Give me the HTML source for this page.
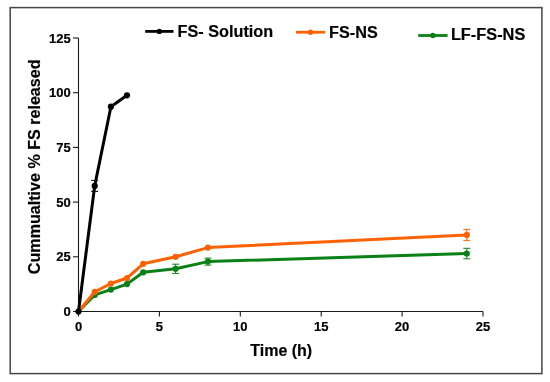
<!DOCTYPE html>
<html><head><meta charset="utf-8"><title>FS release</title>
<style>
html,body{margin:0;padding:0;background:#fff;}
svg{display:block}
text{font-family:"Liberation Sans",Arial,sans-serif;font-weight:bold;fill:#000;stroke:#000;stroke-width:0.18px;}
.tk{font-size:13px}
.lg{font-size:16px}
</style></head><body>
<svg width="550" height="382" viewBox="0 0 550 382">
<rect width="550" height="382" fill="#fff"/>
<rect x="10.2" y="7.6" width="531.7" height="366" fill="#fff" stroke="#464646" stroke-width="1.5"/>
<path d="M78.5 38V311.5H483" fill="none" stroke="#1a1a1a" stroke-width="1.1"/>
<path d="M73 311.5H78.5" stroke="#1a1a1a" stroke-width="1.1"/>
<text x="70.7" y="316.0" text-anchor="end" class="tk">0</text>
<path d="M73 256.8H78.5" stroke="#1a1a1a" stroke-width="1.1"/>
<text x="70.7" y="261.3" text-anchor="end" class="tk">25</text>
<path d="M73 202.1H78.5" stroke="#1a1a1a" stroke-width="1.1"/>
<text x="70.7" y="206.6" text-anchor="end" class="tk">50</text>
<path d="M73 147.4H78.5" stroke="#1a1a1a" stroke-width="1.1"/>
<text x="70.7" y="151.9" text-anchor="end" class="tk">75</text>
<path d="M73 92.7H78.5" stroke="#1a1a1a" stroke-width="1.1"/>
<text x="70.7" y="97.2" text-anchor="end" class="tk">100</text>
<path d="M73 38.0H78.5" stroke="#1a1a1a" stroke-width="1.1"/>
<text x="70.7" y="42.5" text-anchor="end" class="tk">125</text>
<path d="M78.5 311.5V316.5" stroke="#1a1a1a" stroke-width="1.1"/>
<text x="78.5" y="331.3" text-anchor="middle" class="tk">0</text>
<path d="M159.4 311.5V316.5" stroke="#1a1a1a" stroke-width="1.1"/>
<text x="159.4" y="331.3" text-anchor="middle" class="tk">5</text>
<path d="M240.3 311.5V316.5" stroke="#1a1a1a" stroke-width="1.1"/>
<text x="240.3" y="331.3" text-anchor="middle" class="tk">10</text>
<path d="M321.2 311.5V316.5" stroke="#1a1a1a" stroke-width="1.1"/>
<text x="321.2" y="331.3" text-anchor="middle" class="tk">15</text>
<path d="M402.1 311.5V316.5" stroke="#1a1a1a" stroke-width="1.1"/>
<text x="402.1" y="331.3" text-anchor="middle" class="tk">20</text>
<path d="M483.0 311.5V316.5" stroke="#1a1a1a" stroke-width="1.1"/>
<text x="483.0" y="331.3" text-anchor="middle" class="tk">25</text>
<path d="M175.6 264.2V273.4M172.1 264.2h7M172.1 273.4h7" stroke="#0a8016" stroke-width="1" fill="none"/>
<path d="M207.9 258.1V265.1M204.4 258.1h7M204.4 265.1h7" stroke="#0a8016" stroke-width="1" fill="none"/>
<path d="M466.8 248.3V258.8M463.3 248.3h7M463.3 258.8h7" stroke="#0a8016" stroke-width="1" fill="none"/>
<polyline points="78.5,311.5 94.7,294.9 110.9,289.6 127.0,284.1 143.2,272.3 175.6,268.8 207.9,261.6 466.8,253.5" fill="none" stroke="#0a8016" stroke-width="3" stroke-linejoin="round" stroke-linecap="round"/>
<circle cx="94.7" cy="294.9" r="3.1" fill="#0a8016"/>
<circle cx="110.9" cy="289.6" r="3.1" fill="#0a8016"/>
<circle cx="127.0" cy="284.1" r="3.1" fill="#0a8016"/>
<circle cx="143.2" cy="272.3" r="3.1" fill="#0a8016"/>
<circle cx="175.6" cy="268.8" r="3.1" fill="#0a8016"/>
<circle cx="207.9" cy="261.6" r="3.1" fill="#0a8016"/>
<circle cx="466.8" cy="253.5" r="3.1" fill="#0a8016"/>
<path d="M466.8 229.4V240.4M463.3 229.4h7M463.3 240.4h7" stroke="#ff6204" stroke-width="1" fill="none"/>
<polyline points="78.5,311.5 94.7,291.8 110.9,283.5 127.0,278.0 143.2,263.8 175.6,256.8 207.9,247.6 466.8,234.9" fill="none" stroke="#ff6204" stroke-width="3" stroke-linejoin="round" stroke-linecap="round"/>
<circle cx="94.7" cy="291.8" r="3.1" fill="#ff6204"/>
<circle cx="110.9" cy="283.5" r="3.1" fill="#ff6204"/>
<circle cx="127.0" cy="278.0" r="3.1" fill="#ff6204"/>
<circle cx="143.2" cy="263.8" r="3.1" fill="#ff6204"/>
<circle cx="175.6" cy="256.8" r="3.1" fill="#ff6204"/>
<circle cx="207.9" cy="247.6" r="3.1" fill="#ff6204"/>
<circle cx="466.8" cy="234.9" r="3.1" fill="#ff6204"/>
<path d="M94.7 180.4V191.4M91.2 180.4h7M91.2 191.4h7" stroke="#000" stroke-width="1" fill="none"/>
<polyline points="78.5,311.5 94.7,185.9 110.9,106.7 127.0,95.3" fill="none" stroke="#000" stroke-width="3" stroke-linejoin="round" stroke-linecap="round"/>
<circle cx="78.5" cy="311.5" r="3.1" fill="#000"/>
<circle cx="94.7" cy="185.9" r="3.1" fill="#000"/>
<circle cx="110.9" cy="106.7" r="3.1" fill="#000"/>
<circle cx="127.0" cy="95.3" r="3.1" fill="#000"/>
<path d="M145.2 31.4H173.5" stroke="#000" stroke-width="2.8"/><circle cx="159.35" cy="31.4" r="2.7" fill="#000"/><text x="177.6" y="36.5" class="lg" textLength="95.6" lengthAdjust="spacingAndGlyphs">FS- Solution</text>
<path d="M296 32.25H324.9" stroke="#ff6204" stroke-width="2.8"/><circle cx="310.45" cy="32.25" r="2.7" fill="#ff6204"/><text x="329.1" y="38.0" class="lg" textLength="48.6" lengthAdjust="spacingAndGlyphs">FS-NS</text>
<path d="M418.2 35.5H447.6" stroke="#0a8016" stroke-width="2.8"/><circle cx="432.9" cy="35.5" r="2.7" fill="#0a8016"/><text x="450.9" y="40.1" class="lg" textLength="74.4" lengthAdjust="spacingAndGlyphs">LF-FS-NS</text>
<text x="281.2" y="356.3" text-anchor="middle" class="lg">Time (h)</text>
<text transform="translate(39.8 166.8) rotate(-90)" text-anchor="middle" class="lg" style="font-size:16.1px">Cummualtive % FS released</text>
</svg>
</body></html>
